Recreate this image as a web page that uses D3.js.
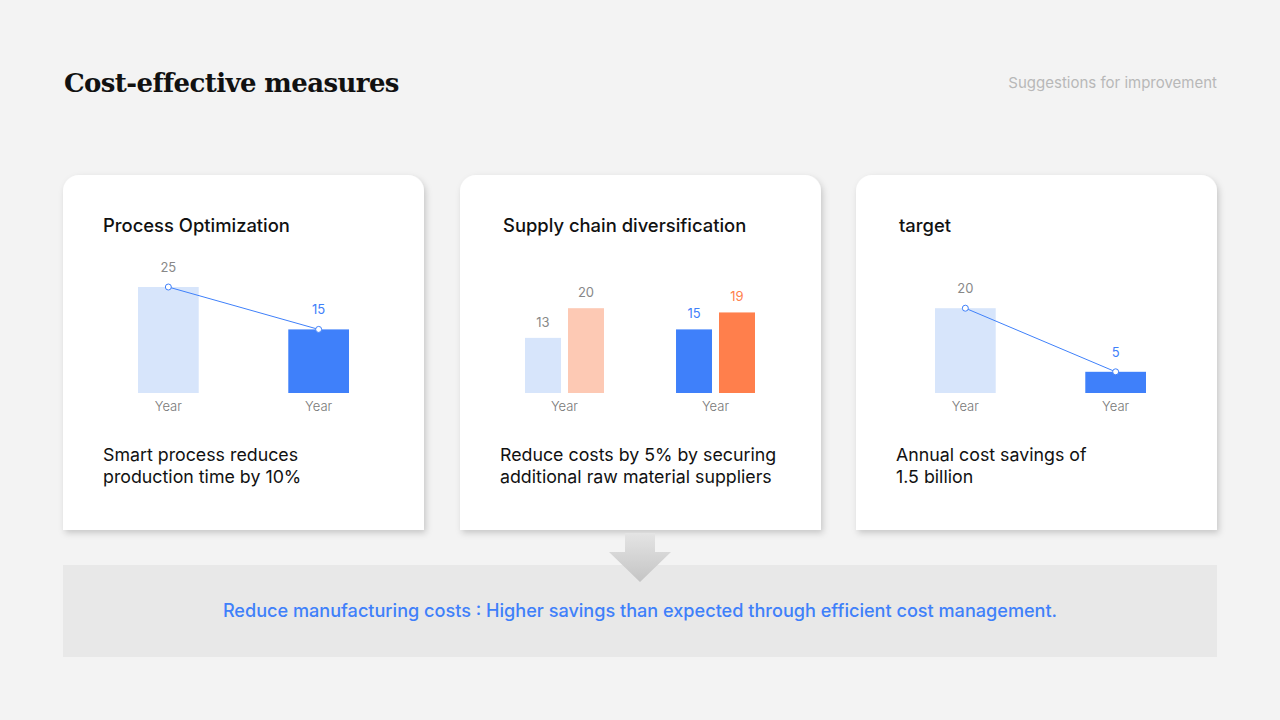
<!DOCTYPE html>
<html>
<head>
<meta charset="utf-8">
<script src="https://cdn.jsdelivr.net/npm/d3@7"></script>
<style>
  html, body { margin: 0; padding: 0; background: #f3f3f3; }
  svg { display: block; }
</style>
</head>
<body>
<svg id="chart" width="1280" height="720"></svg>
<script>
// ---- data ----
var cardTitles = ["Process Optimization", "Supply chain diversification", "target"];
var cardNotes = [
  ["Smart process reduces", "production time by 10%"],
  ["Reduce costs by 5% by securing", "additional raw material suppliers"],
  ["Annual cost savings of", "1.5 billion"]
];
var yearLabels = ["Year", "Year"];
var processValues = [25, 15];
var supplyBase = [13, 15];
var supplyAlt = [20, 19];
var targetValues = [20, 5];
var bannerText = "Reduce manufacturing costs : Higher savings than expected through efficient cost management.";

var BLUE = "#3f80fa", LBLUE = "#d7e5fb", ORANGE = "#ff7f4c", LORANGE = "#fdc9b4";

var svg = d3.select("#chart");
var defs = svg.append("defs");
var f = defs.append("filter").attr("id", "shadow")
  .attr("x", "-5%").attr("y", "-5%").attr("width", "115%").attr("height", "115%");
f.append("feDropShadow").attr("dx", 2).attr("dy", 3).attr("stdDeviation", 3)
  .attr("flood-color", "#000").attr("flood-opacity", 0.18);

var grad = defs.append("linearGradient").attr("id", "arrowGrad")
  .attr("x1", 0).attr("y1", 0).attr("x2", 0).attr("y2", 1);
grad.append("stop").attr("offset", "0%").attr("stop-color", "#e4e4e4");
grad.append("stop").attr("offset", "100%").attr("stop-color", "#c4c4c4");

svg.append("rect").attr("width", 1280).attr("height", 720).attr("fill", "#f3f3f3");

// header
svg.append("text").attr("x", 64).attr("y", 92)
  .attr("font-family", "'DejaVu Serif', serif").attr("font-weight", "bold")
  .attr("font-size", 26).attr("fill", "#111").attr("letter-spacing", -0.6)
  .text("Cost-effective measures");
svg.append("text").attr("x", 1217).attr("y", 88).attr("text-anchor", "end")
  .attr("font-family", "Inter, sans-serif").attr("font-size", 15).attr("fill", "#b8b8b8")
  .text("Suggestions for improvement");

// cards
var cardX = [63, 460, 856], cardY = 175, cardW = 361, cardH = 355, rad = 16;
var plotLeft = [75, 65, 79], plotW = [211, 230, 211];
var y = d3.scaleLinear().domain([0, 25]).range([393, 287]);

function cardPath(x0, y0, w, h, r) {
  var p = d3.path();
  p.moveTo(x0, y0 + h);
  p.lineTo(x0, y0 + r);
  p.arcTo(x0, y0, x0 + r, y0, r);
  p.lineTo(x0 + w - r, y0);
  p.arcTo(x0 + w, y0, x0 + w, y0 + r, r);
  p.lineTo(x0 + w, y0 + h);
  p.closePath();
  return p.toString();
}

cardX.forEach(function(cx, i) {
  svg.append("path").attr("d", cardPath(cx, cardY, cardW, cardH, rad))
    .attr("fill", "#fff").attr("filter", "url(#shadow)");
  var tx = i == 0 ? cx + 40 : cx + 43;
  svg.append("text").attr("x", tx).attr("y", 232)
    .attr("font-family", "Inter, sans-serif").attr("font-weight", 500)
    .attr("font-size", 18.4).attr("fill", "#111")
    .text(cardTitles[i]);
  var note = svg.append("text").attr("font-family", "Inter, sans-serif")
    .attr("font-size", 17.8).attr("fill", "#111");
  cardNotes[i].forEach(function(line, k) {
    note.append("tspan").attr("x", cx + 40).attr("y", 461 + k * 22).text(line);
  });
});

function lineChart(ci, values) {
  var x = d3.scaleBand().domain(d3.range(values.length))
    .range([cardX[ci] + plotLeft[ci], cardX[ci] + plotLeft[ci] + plotW[ci]])
    .paddingInner(0.596).paddingOuter(0);
  var g = svg.append("g");
  g.selectAll("rect.bar").data(values).enter().append("rect")
    .attr("x", function(d, i) { return x(i); })
    .attr("y", function(d) { return y(d); })
    .attr("width", x.bandwidth())
    .attr("height", function(d) { return y(0) - y(d); })
    .attr("fill", function(d, i) { return i == 0 ? LBLUE : BLUE; });
  var cxf = function(d, i) { return x(i) + x.bandwidth() / 2; };
  g.append("path").datum(values)
    .attr("d", d3.line().x(cxf).y(function(d) { return y(d); }))
    .attr("fill", "none").attr("stroke", BLUE).attr("stroke-width", 1);
  g.selectAll("circle").data(values).enter().append("circle")
    .attr("cx", cxf).attr("cy", function(d) { return y(d); }).attr("r", 3)
    .attr("fill", "#fff").attr("stroke", BLUE).attr("stroke-width", 1);
  g.selectAll("text.val").data(values).enter().append("text")
    .attr("x", cxf).attr("y", function(d) { return y(d) - 15; })
    .attr("text-anchor", "middle").attr("font-family", "Inter, sans-serif")
    .attr("font-size", 13).attr("fill", function(d, i) { return i == 0 ? "#888" : BLUE; })
    .text(function(d) { return d; });
  g.selectAll("text.yr").data(yearLabels).enter().append("text")
    .attr("x", function(d, i) { return x(i) + x.bandwidth() / 2; }).attr("y", 411)
    .attr("text-anchor", "middle").attr("font-family", "Inter, sans-serif")
    .attr("font-weight", 300).attr("font-size", 13).attr("fill", "#777")
    .text(function(d) { return d; });
}

lineChart(0, processValues);
lineChart(2, targetValues);

// grouped bars
(function() {
  var ci = 1;
  var x0 = d3.scaleBand().domain(d3.range(supplyBase.length))
    .range([cardX[ci] + plotLeft[ci], cardX[ci] + plotLeft[ci] + plotW[ci]])
    .paddingInner(0.477).paddingOuter(0);
  var x1 = d3.scaleBand().domain([0, 1]).range([0, x0.bandwidth()]).paddingInner(0.163);
  var rows = supplyBase.map(function(b, i) { return [b, supplyAlt[i]]; });
  var fills = [[LBLUE, LORANGE], [BLUE, ORANGE]];
  var labelCol = [["#888", "#888"], [BLUE, ORANGE]];
  var g = svg.append("g");
  var grp = g.selectAll("g.grp").data(rows).enter().append("g")
    .attr("transform", function(d, i) { return "translate(" + x0(i) + ",0)"; });
  grp.each(function(row, gi) {
    var s = d3.select(this);
    s.selectAll("rect").data(row).enter().append("rect")
      .attr("x", function(d, k) { return x1(k); })
      .attr("y", function(d) { return y(d); })
      .attr("width", x1.bandwidth())
      .attr("height", function(d) { return y(0) - y(d); })
      .attr("fill", function(d, k) { return fills[gi][k]; });
    s.selectAll("text").data(row).enter().append("text")
      .attr("x", function(d, k) { return x1(k) + x1.bandwidth() / 2; })
      .attr("y", function(d) { return y(d) - 11; })
      .attr("text-anchor", "middle").attr("font-family", "Inter, sans-serif")
      .attr("font-size", 13).attr("fill", function(d, k) { return labelCol[gi][k]; })
      .text(function(d) { return d; });
    s.append("text").attr("x", x0.bandwidth() / 2).attr("y", 411)
      .attr("text-anchor", "middle").attr("font-family", "Inter, sans-serif")
      .attr("font-weight", 300).attr("font-size", 13).attr("fill", "#777")
      .text(yearLabels[gi]);
  });
})();

// arrow + banner
svg.append("rect").attr("x", 63).attr("y", 565).attr("width", 1154).attr("height", 92)
  .attr("fill", "#e8e8e8");
svg.append("path")
  .attr("d", "M625,533 L655,533 L655,552 L671,552 L640,582 L609,552 L625,552 Z")
  .attr("fill", "url(#arrowGrad)");
svg.append("text").attr("x", 640).attr("y", 617).attr("text-anchor", "middle")
  .attr("font-family", "Inter, sans-serif").attr("font-weight", 500)
  .attr("font-size", 18.1).attr("fill", BLUE)
  .text(bannerText);
</script>
</body>
</html>
